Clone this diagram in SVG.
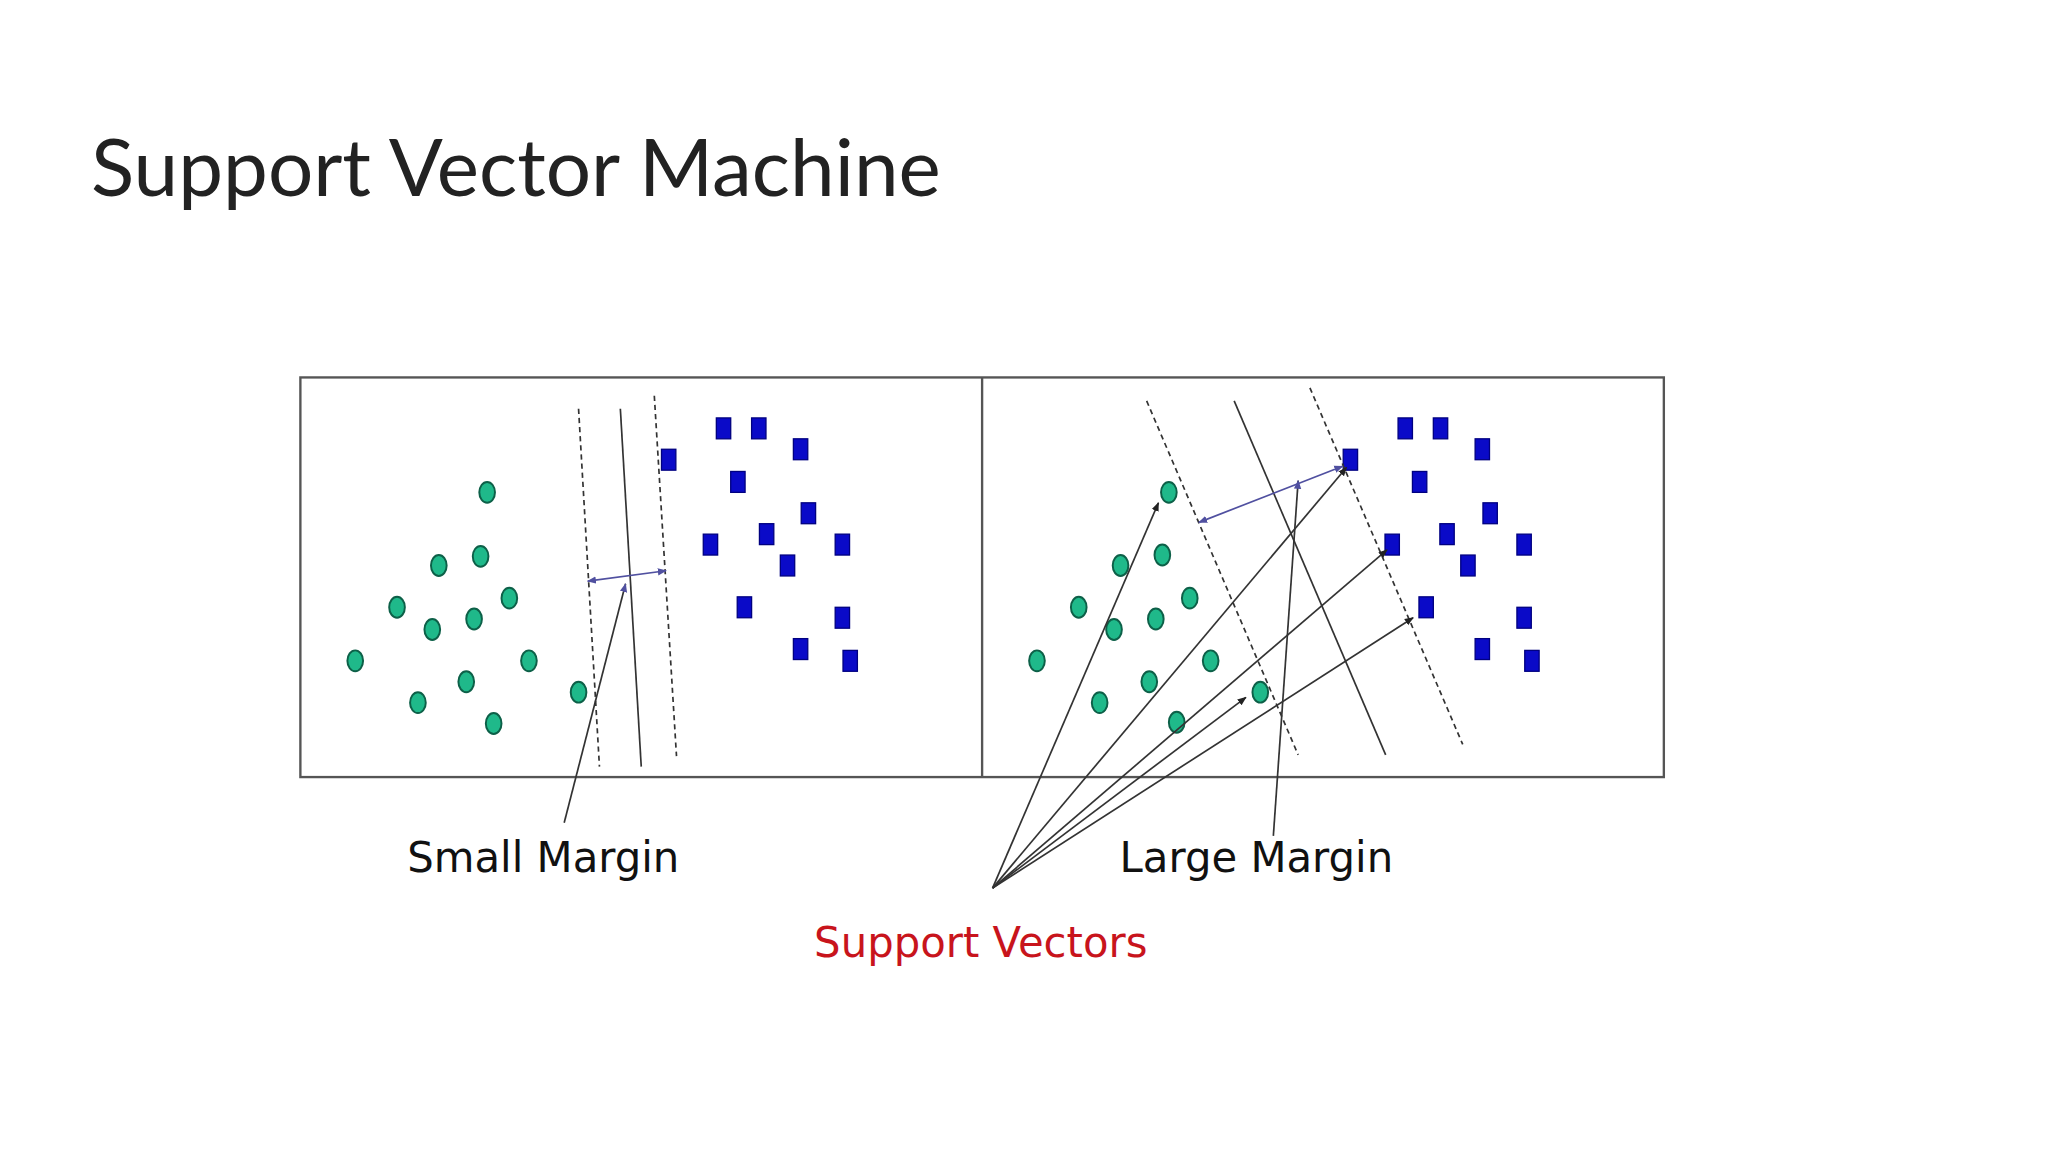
<svg xmlns="http://www.w3.org/2000/svg" width="2048" height="1152" viewBox="0 0 2048 1152">
<style>
.g{fill:#1fb98a;stroke:#0d6048;stroke-width:1.5}
.b{fill:#0a0ac8;stroke:#000080;stroke-width:1}
.ln{stroke:#333;stroke-width:1.3;fill:none}
.dl{stroke:#333;stroke-width:1.3;fill:none;stroke-dasharray:4 3}
.ma{stroke:#5050a0;stroke-width:1.3;fill:none}
.lbl{font-family:"DejaVu Sans",sans-serif;font-size:32px;fill:#111;text-anchor:middle}
</style>
<defs>
<marker id="ah" viewBox="0 0 10 10" refX="9" refY="5" markerWidth="7" markerHeight="7" orient="auto-start-reverse" markerUnits="userSpaceOnUse"><path d="M0,1 L10,5 L0,9 z" fill="#222"/></marker>
<marker id="am" viewBox="0 0 10 10" refX="9" refY="5" markerWidth="7" markerHeight="7" orient="auto-start-reverse" markerUnits="userSpaceOnUse"><path d="M0,1 L10,5 L0,9 z" fill="#5050a0"/></marker>
<ellipse id="c" rx="6" ry="8" class="g"/>
<rect id="s" x="-5.5" y="-8" width="11" height="16" class="b"/>
</defs>
<rect width="2048" height="1152" fill="#fff"/>
<text x="91" y="196" font-family="Lato,sans-serif" font-size="80" fill="#222">Support Vector Machine</text>
<g transform="scale(1.306)">
<g id="frame"><rect x="230" y="289" width="1044" height="306" fill="none" stroke="#555" stroke-width="1.8"/><line x1="752" y1="289" x2="752" y2="595" stroke="#555" stroke-width="1.8"/></g>
<g id="left-green">
<use href="#c" x="373" y="377"/><use href="#c" x="336" y="433"/><use href="#c" x="368" y="426"/><use href="#c" x="304" y="465"/><use href="#c" x="331" y="482"/><use href="#c" x="363" y="474"/><use href="#c" x="390" y="458"/><use href="#c" x="272" y="506"/><use href="#c" x="357" y="522"/><use href="#c" x="405" y="506"/><use href="#c" x="320" y="538"/><use href="#c" x="378" y="554"/><use href="#c" x="443" y="530"/>
</g>
<g id="left-blue">
<use href="#s" x="554" y="328"/><use href="#s" x="581" y="328"/><use href="#s" x="613" y="344"/><use href="#s" x="512" y="352"/><use href="#s" x="565" y="369"/><use href="#s" x="619" y="393"/><use href="#s" x="544" y="417"/><use href="#s" x="587" y="409"/><use href="#s" x="645" y="417"/><use href="#s" x="603" y="433"/><use href="#s" x="570" y="465"/><use href="#s" x="645" y="473"/><use href="#s" x="613" y="497"/><use href="#s" x="651" y="506"/>
</g>
<g id="right-green">
<use href="#c" x="895" y="377"/><use href="#c" x="858" y="433"/><use href="#c" x="890" y="425"/><use href="#c" x="826" y="465"/><use href="#c" x="853" y="482"/><use href="#c" x="885" y="474"/><use href="#c" x="911" y="458"/><use href="#c" x="794" y="506"/><use href="#c" x="880" y="522"/><use href="#c" x="927" y="506"/><use href="#c" x="842" y="538"/><use href="#c" x="901" y="553"/><use href="#c" x="965" y="530"/>
</g>
<g id="right-blue">
<use href="#s" x="1076" y="328"/><use href="#s" x="1103" y="328"/><use href="#s" x="1135" y="344"/><use href="#s" x="1034" y="352"/><use href="#s" x="1087" y="369"/><use href="#s" x="1141" y="393"/><use href="#s" x="1066" y="417"/><use href="#s" x="1108" y="409"/><use href="#s" x="1167" y="417"/><use href="#s" x="1124" y="433"/><use href="#s" x="1092" y="465"/><use href="#s" x="1167" y="473"/><use href="#s" x="1135" y="497"/><use href="#s" x="1173" y="506"/>
</g>
<g id="connectors">
<line class="dl" x1="443" y1="313" x2="459" y2="587"/>
<line class="ln" x1="475" y1="313" x2="491" y2="587"/>
<line class="dl" x1="501" y1="303" x2="518" y2="579"/>
<line class="ma" x1="450" y1="445" x2="510" y2="437" marker-start="url(#am)" marker-end="url(#am)"/>
<line class="ln" x1="432" y1="630" x2="479" y2="447" marker-end="url(#am)"/>
<line class="dl" x1="878" y1="307" x2="994" y2="578"/>
<line class="ln" x1="945" y1="307" x2="1061" y2="578"/>
<line class="dl" x1="1003" y1="297" x2="1120" y2="570"/>
<line class="ma" x1="918" y1="400" x2="1028" y2="357" marker-start="url(#am)" marker-end="url(#am)"/>
<line class="ln" x1="975" y1="640" x2="994" y2="368" marker-end="url(#am)"/>
<line class="ln" x1="760" y1="680" x2="887" y2="385" marker-end="url(#ah)"/>
<line class="ln" x1="760" y1="680" x2="1031" y2="358" marker-end="url(#ah)"/>
<line class="ln" x1="760" y1="680" x2="1062" y2="421" marker-end="url(#ah)"/>
<line class="ln" x1="760" y1="680" x2="1082" y2="473" marker-end="url(#ah)"/>
<line class="ln" x1="760" y1="680" x2="954" y2="534" marker-end="url(#ah)"/>
</g>
<g id="labels">
<text class="lbl" x="416" y="668">Small Margin</text>
<text class="lbl" x="962" y="668">Large Margin</text>
<text class="lbl" x="751" y="733" style="fill:#c8141c">Support Vectors</text>
</g>
</g>
</svg>
